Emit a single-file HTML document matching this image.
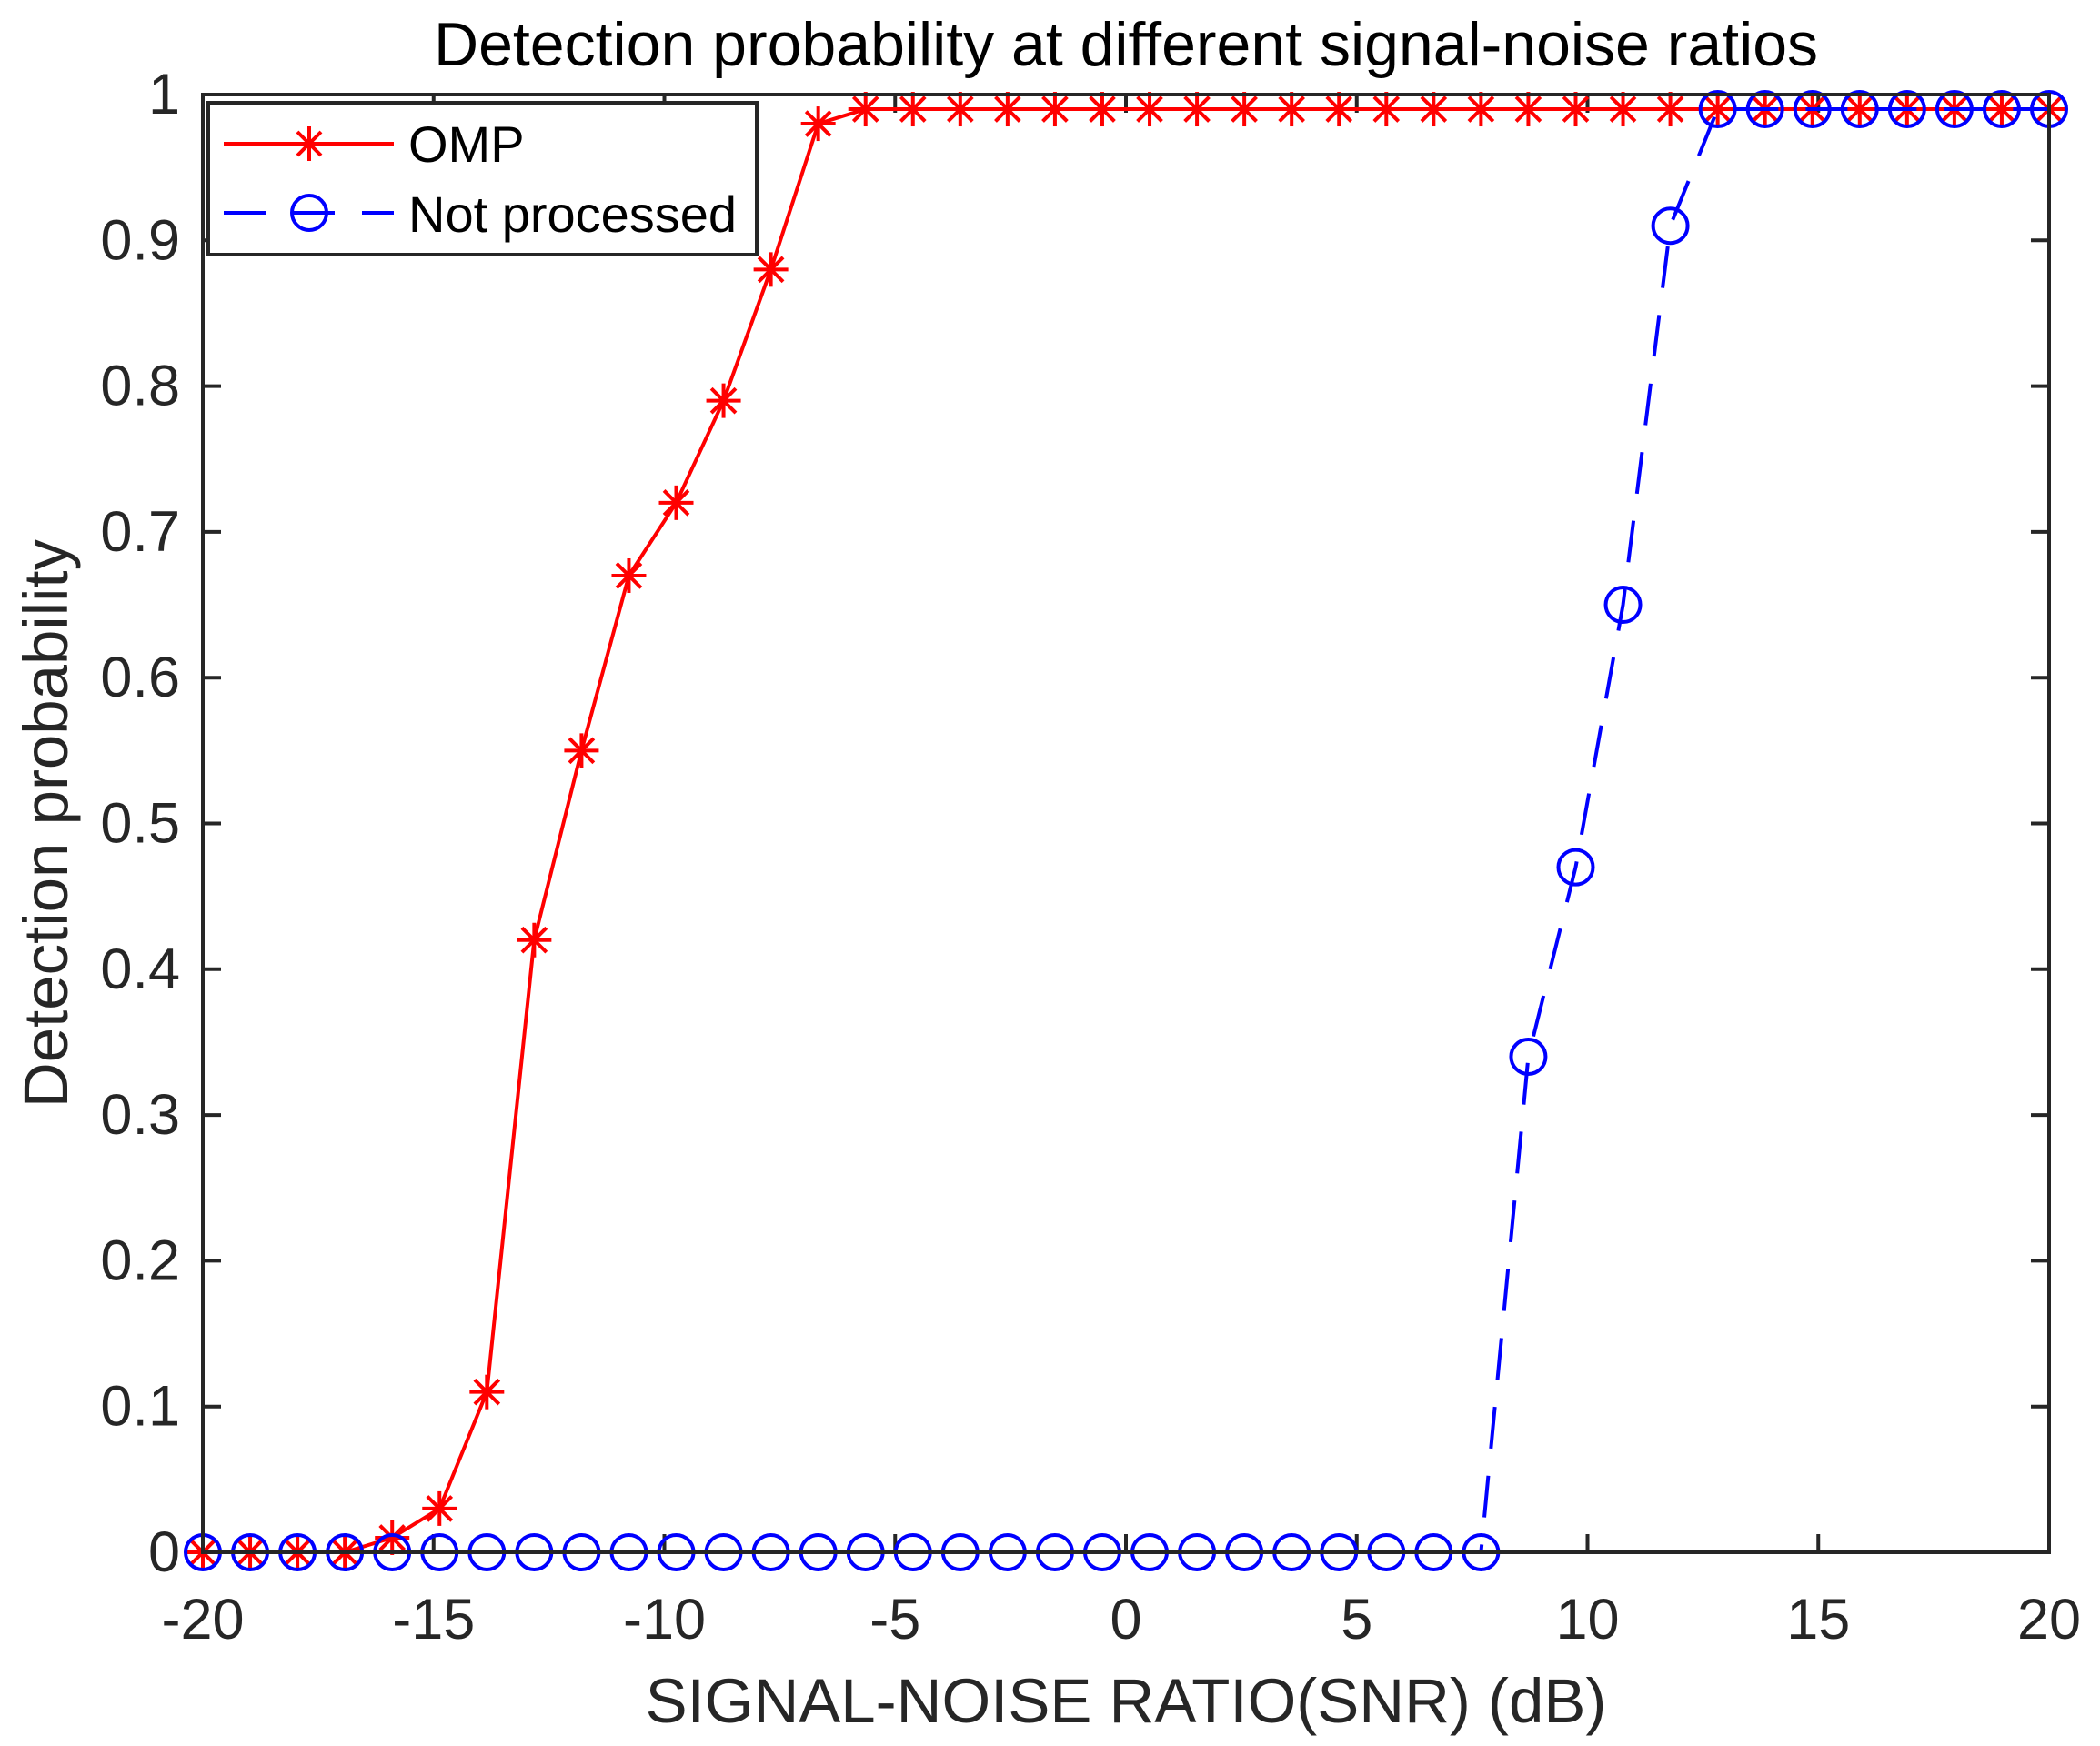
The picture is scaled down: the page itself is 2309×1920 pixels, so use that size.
<!DOCTYPE html>
<html><head><meta charset="utf-8"><style>html,body{margin:0;padding:0;background:#fff}svg{display:block}</style></head>
<body>
<svg id="s" width="2309" height="1920" viewBox="0 0 2309 1920" xmlns="http://www.w3.org/2000/svg" font-family="Liberation Sans, Arial, sans-serif">
<rect width="2309" height="1920" fill="#fff"/>
<g id="ticks" stroke="#262626" stroke-width="4"></g>
<g id="series"></g>
<rect x="223" y="104" width="2030" height="1603" fill="none" stroke="#262626" stroke-width="4"/>
<g font-size="63" fill="#262626" text-anchor="end" dominant-baseline="central">
<text x="198" y="1707">0</text>
<text x="198" y="1546.7">0.1</text>
<text x="198" y="1386.4">0.2</text>
<text x="198" y="1226.1">0.3</text>
<text x="198" y="1065.8">0.4</text>
<text x="198" y="905.5">0.5</text>
<text x="198" y="745.2">0.6</text>
<text x="198" y="584.9">0.7</text>
<text x="198" y="424.6">0.8</text>
<text x="198" y="264.3">0.9</text>
<text x="198" y="104">1</text>
</g>
<g font-size="63" fill="#262626" text-anchor="middle">
<text x="223" y="1802">-20</text>
<text x="476.75" y="1802">-15</text>
<text x="730.5" y="1802">-10</text>
<text x="984.25" y="1802">-5</text>
<text x="1238" y="1802">0</text>
<text x="1491.75" y="1802">5</text>
<text x="1745.5" y="1802">10</text>
<text x="1999.25" y="1802">15</text>
<text x="2253" y="1802">20</text>
</g>
<text x="1238" y="1894" font-size="69" fill="#262626" text-anchor="middle">SIGNAL-NOISE RATIO(SNR) (dB)</text>
<text x="1238" y="72" font-size="68" fill="#000" text-anchor="middle">Detection probability at different signal-noise ratios</text>
<text transform="translate(74,905.5) rotate(-90)" font-size="69" fill="#262626" text-anchor="middle">Detection probability</text>
<rect x="229" y="113" width="603" height="167" fill="#fff" stroke="#262626" stroke-width="4"/>
<line x1="246" y1="158" x2="433" y2="158" stroke="#f00" stroke-width="4"/>
<g stroke="#f00" stroke-width="4"><line x1="340" y1="139" x2="340" y2="177"/><line x1="321" y1="158" x2="359" y2="158"/><line x1="327" y1="145" x2="353" y2="171"/><line x1="327" y1="171" x2="353" y2="145"/></g>
<line x1="246" y1="234" x2="433" y2="234" stroke="#00f" stroke-width="4" stroke-dasharray="46,30"/>
<circle cx="340" cy="234" r="19" fill="none" stroke="#00f" stroke-width="4"/>
<line x1="321" y1="234" x2="359" y2="234" stroke="#00f" stroke-width="4"/>
<text x="449" y="178" font-size="56" fill="#000">OMP</text>
<text x="449" y="255" font-size="56" fill="#000">Not processed</text>
</svg>
<script>
(function(){
var NS="http://www.w3.org/2000/svg";
function el(p,t,a){var e=document.createElementNS(NS,t);for(var k in a)e.setAttribute(k,a[k]);p.appendChild(e);return e;}
var X=function(v){return 223+(v+20)*50.75;}, Y=function(v){return 1707-1603*v;};
var tk=document.getElementById('ticks');
for(var i=0;i<=10;i++){var y=Y(i/10);el(tk,'line',{x1:223,y1:y,x2:243,y2:y});el(tk,'line',{x1:2233,y1:y,x2:2253,y2:y});}
for(var i=0;i<=8;i++){var x=X(-20+5*i);el(tk,'line',{x1:x,y1:1707,x2:x,y2:1687});el(tk,'line',{x1:x,y1:104,x2:x,y2:124});}
var omp=[0,0,0,0,0.01,0.03,0.11,0.42,0.55,0.67,0.72,0.79,0.88,0.98];while(omp.length<40)omp.push(0.99);
var np=[];for(var i=0;i<28;i++)np.push(0);np.push(0.34,0.47,0.65,0.91);while(np.length<40)np.push(0.99);
var g=document.getElementById('series');
function pts(a){return a.map(function(v,i){return X(-20+40*i/39)+','+Y(v);}).join(' ');}
el(g,'polyline',{points:pts(omp),fill:'none',stroke:'#f00','stroke-width':4});
omp.forEach(function(v,i){var x=X(-20+40*i/39),y=Y(v),r=19,d=13.4;
[[0,-r,0,r],[-r,0,r,0],[-d,-d,d,d],[-d,d,d,-d]].forEach(function(l){el(g,'line',{x1:x+l[0],y1:y+l[1],x2:x+l[2],y2:y+l[3],stroke:'#f00','stroke-width':4});});});
el(g,'polyline',{points:pts(np),fill:'none',stroke:'#00f','stroke-width':4,'stroke-dasharray':'46,30'});
np.forEach(function(v,i){el(g,'circle',{cx:X(-20+40*i/39),cy:Y(v),r:19,fill:'none',stroke:'#00f','stroke-width':4});});
})();
</script>
</body></html>
